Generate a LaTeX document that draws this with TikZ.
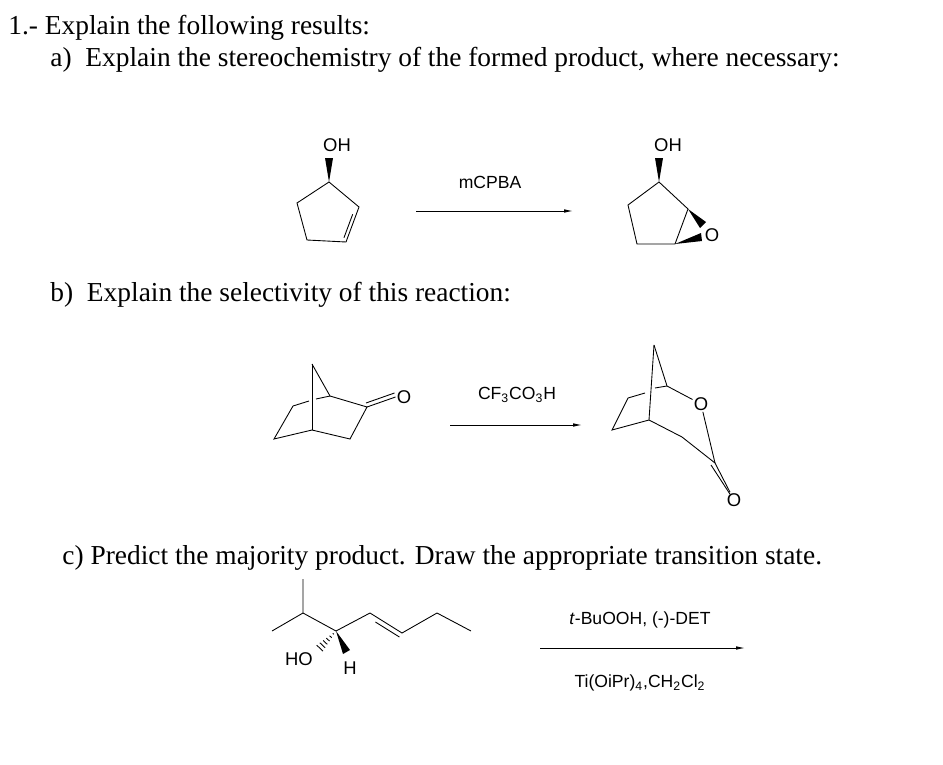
\documentclass[tikz,border=0pt]{standalone}
\usepackage{fontspec}
\setmainfont{Liberation Serif}
\setsansfont{Liberation Sans}
\usetikzlibrary{arrows.meta,calc}
\begin{document}
\begin{tikzpicture}[x=0.02cm,y=-0.02cm,line width=0.5pt]
\tikzset{
  head/.style={anchor=west,inner sep=0pt,font=\fontsize{15.6}{17}\selectfont},
  atom/.style={inner sep=0.5pt,font=\sffamily\fontsize{10.5}{12}\selectfont},
  reag/.style={inner sep=0pt,font=\sffamily\fontsize{10}{11}\selectfont},
  react/.style={-{Latex[length=5pt,width=2pt]}},
}
\useasboundingbox (0,0) rectangle (943,764);

% headings
\node[head] (t1) at (8,28) {1.- Explain the following results:};
\node[head] (ta) at (50,60) {a)\ \ Explain the stereochemistry of the formed product, where necessary:};
\node[head] (tb) at (50,295) {b)\ \ Explain the selectivity of this reaction:};
\node[head] (tc) at (62,558) {c) Predict the majority product. Draw the appropriate transition state.};

% a) cyclopentenol
\coordinate (a1) at (329,182); \coordinate (a2) at (359,207);
\coordinate (a3) at (346,242); \coordinate (a4) at (307,240);
\coordinate (a5) at (297,203);
\node[atom] (oh1) at (337,145) {OH};
\draw (a1) -- (a2) -- (a3) -- (a4) -- (a5) -- cycle;
\draw ($(a2)!0.18!(a3)+(-4,1)$) -- ($(a2)!0.85!(a3)+(-4,1)$);
\fill (a1) -- (325,158) -- (333,158) -- cycle;

% a) arrow
\coordinate (ra1) at (416,211); \coordinate (ra2) at (573,211);
\draw[react] (ra1) -- (ra2);
\node[reag] (mcpba) at (490,182) {mCPBA};

% a) epoxide
\coordinate (e1) at (659,182); \coordinate (e2) at (688,209);
\coordinate (e3) at (675,244); \coordinate (e4) at (637,244);
\coordinate (e5) at (628,205);
\node[atom] (oh2) at (668,145) {OH};
\node[atom] (ox) at (712,235) {O};
\draw (e1) -- (e2) -- (e3) -- (e4) -- (e5) -- cycle;
\fill (e1) -- (655,158) -- (663,158) -- cycle;
\fill (e2) -- (700,228) -- (706,222) -- cycle;
\fill (e3) -- (701,233) -- (702,241) -- cycle;

% b) norbornanone
\coordinate (n1) at (312,364); \coordinate (n2) at (330,396);
\coordinate (n3) at (367,407); \coordinate (n4) at (350,439);
\coordinate (n5) at (312,430); \coordinate (n6) at (274,439);
\coordinate (n7) at (293,406);
\node[atom] (o3) at (404,397) {O};
\draw (n1) -- (n2) -- (n3) -- (n4) -- (n5) -- (n6) -- (n7) -- (309,401);
\draw (n2) -- (316,399);
\draw (n1) -- (n5);
\draw (n3) -- (o3.west);
\draw ($(n3)+(-1,-4)$) -- ($(o3.west)+(-1,-4)$);

% b) arrow
\coordinate (rb1) at (450,425); \coordinate (rb2) at (582,425);
\draw[react] (rb1) -- (rb2);
\node[reag] (cf3) at (517,395) {CF\textsubscript{3}CO\textsubscript{3}H};

% b) lactone
\coordinate (l1) at (654,345); \coordinate (l2) at (667,386);
\coordinate (l3) at (649,420); \coordinate (l4) at (628,398);
\coordinate (l5) at (612,430); \coordinate (l6) at (682,437);
\coordinate (l7) at (715,463);
\node[atom] (o4) at (701,404) {O};
\node[atom] (o5) at (734,500) {O};
\draw (l1) -- (l2) -- (o4);
\draw (o4) -- (l7);
\draw (l1) -- (l3) -- (l6) -- (l7) -- (o5);
\draw ($(l7)+(-4,2)$) -- ($(o5.north)+(-4,2)$);
\draw (l3) -- (l5) -- (l4) -- (645,393);
\draw (l2) -- (655,388);

% c) allylic alcohol
\coordinate (c0) at (303,579); \coordinate (c1) at (303,613);
\coordinate (c2) at (272,631); \coordinate (c3) at (336,631);
\coordinate (c4) at (370,613); \coordinate (c5) at (402,633);
\coordinate (c6) at (437,613); \coordinate (c7) at (471,631);
\coordinate (hx) at (318,650);
\node[atom] (ho) at (299,659) {HO};
\node[atom] (hh) at (350,668) {H};
\draw (c0) -- (c1) -- (c2);
\draw (c1) -- (c3) -- (c4) -- (c5) -- (c6) -- (c7);
\draw ($(c4)!0.2!(c5)+(-1,5)$) -- ($(c4)!0.95!(c5)+(-1,5)$);
\fill (c3) -- (343,654) -- (350,650) -- cycle;
\foreach \t in {0.15,0.3,...,0.95}
  \draw ($(c3)!\t!(hx)+({3.5*\t},{3.3*\t})$) -- ($(c3)!\t!(hx)-({3.5*\t},{3.3*\t})$);

% c) arrow
\coordinate (rc1) at (540,648); \coordinate (rc2) at (745,648);
\draw[react] (rc1) -- (rc2);
\node[reag] (tbu) at (640,620) {\textit{t}-BuOOH, (-)-DET};
\node[reag] (ti) at (640,683) {Ti(OiPr)\textsubscript{4},CH\textsubscript{2}Cl\textsubscript{2}};
\end{tikzpicture}
\end{document}
